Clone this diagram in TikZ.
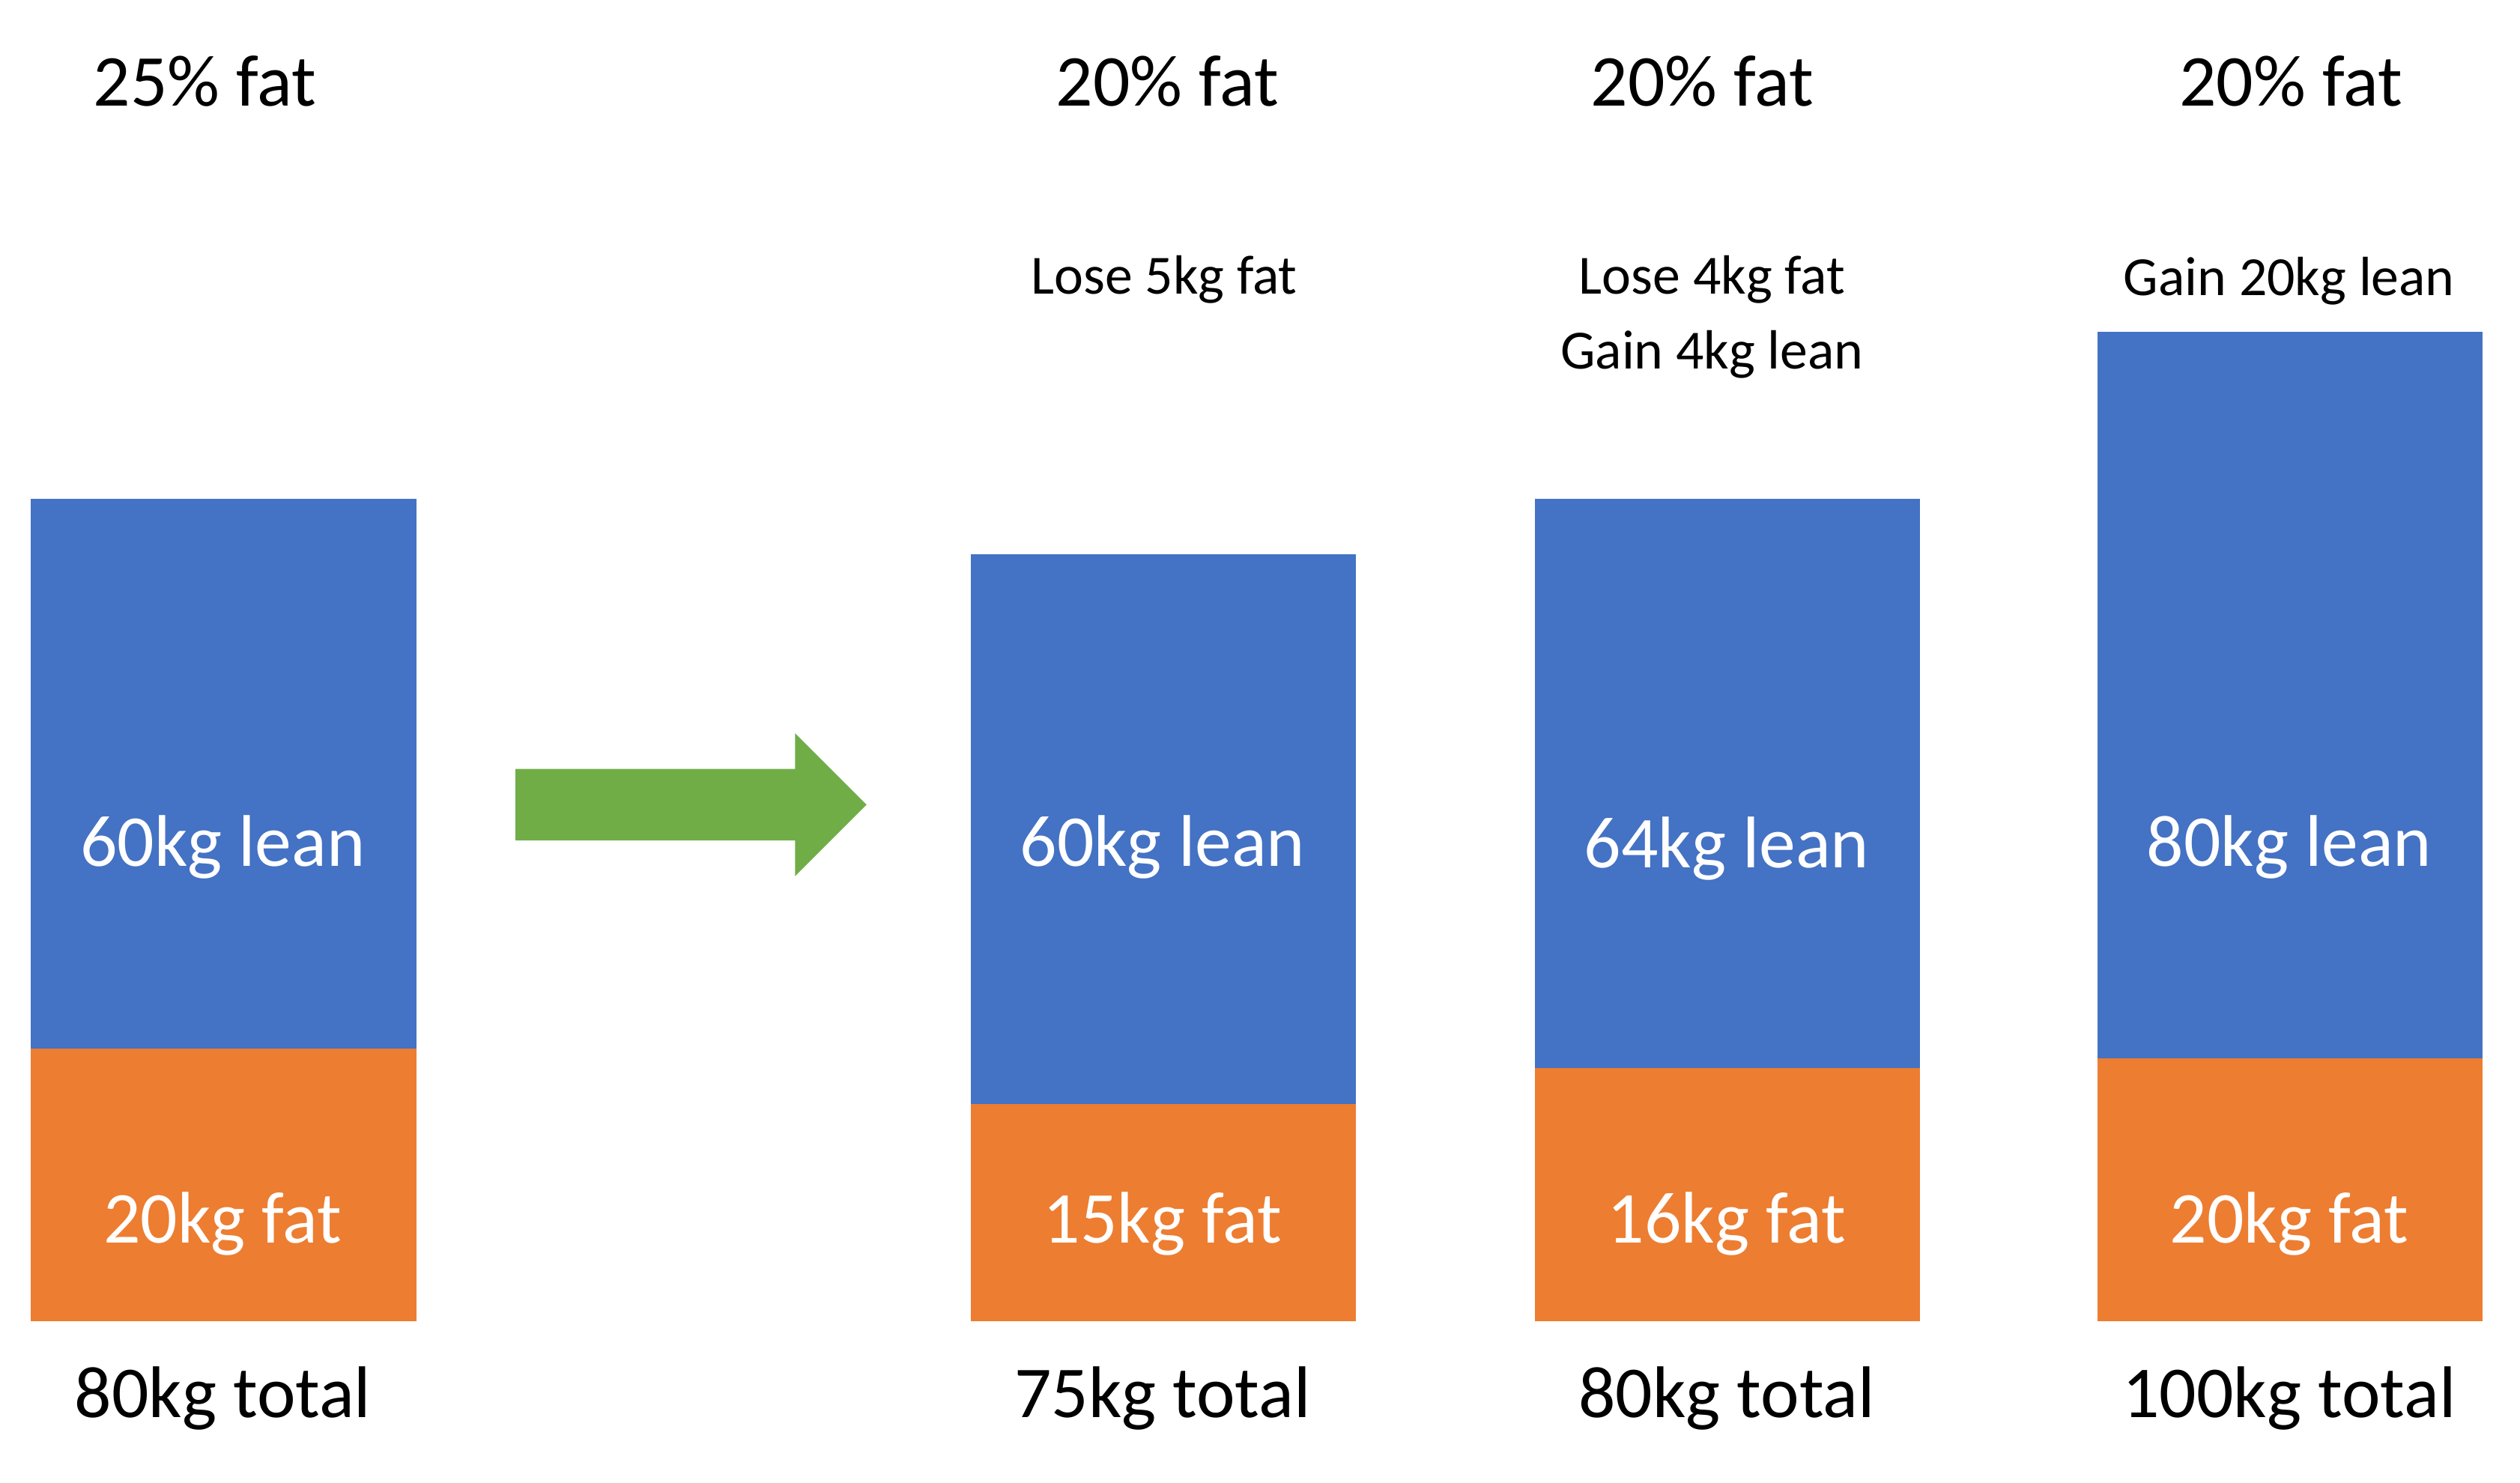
\documentclass[tikz,border=0pt]{standalone}
\usepackage{fontspec}
\setmainfont{Carlito}
\definecolor{cblue}{HTML}{4472C4}
\definecolor{corange}{HTML}{ED7D31}
\definecolor{cgreen}{HTML}{70AD47}
\begin{document}
\begin{tikzpicture}[x=1pt,y=-1pt,
  big/.style={font=\fontsize{45}{54}\selectfont,inner sep=0pt},
  small/.style={font=\fontsize{34}{46}\selectfont,inner sep=0pt,align=center},
  inbar/.style={big,text=white}]
\useasboundingbox (0,0) rectangle (1550,912);
% bars
\foreach \n/\x/\bt/\ot in {a/19/307/645,b/597/341/679,c/944/307/657,d/1290/204/651}{
  \fill[cblue] (\x,\bt) rectangle (\x+237,\ot);
  \fill[corange] (\x,\ot) rectangle (\x+237,813);
}
\node[big] (p1) at (126,50) {25\% fat};
\node[big] (p2) at (718,50) {20\% fat};
\node[big] (p3) at (1047,50) {20\% fat};
\node[big] (p4) at (1409,50) {20\% fat};
\node[small] (s2) at (716,172) {Lose 5kg fat};
\node[small] (s3) at (1053,195) {Lose 4kg fat\\Gain 4kg lean};
\node[small] (s4) at (1408,173) {Gain 20kg lean};
\node[inbar] (l1) at (137,521) {60kg lean};
\node[inbar] (l2) at (715,521) {60kg lean};
\node[inbar] (l3) at (1062,522) {64kg lean};
\node[inbar] (l4) at (1408,521) {80kg lean};
\node[inbar] (f1) at (137,753) {20kg fat};
\node[inbar] (f2) at (715,753) {15kg fat};
\node[inbar] (f3) at (1062,753) {16kg fat};
\node[inbar] (f4) at (1408,753) {20kg fat};
\node[big] (t1) at (137,860) {80kg total};
\node[big] (t2) at (715,860) {75kg total};
\node[big] (t3) at (1062,860) {80kg total};
\node[big] (t4) at (1408,860) {100kg total};
% arrow
\fill[cgreen] (317,473) -- (489,473) -- (489,451) -- (533,495) -- (489,539) -- (489,517) -- (317,517) -- cycle;
\end{tikzpicture}
\end{document}
